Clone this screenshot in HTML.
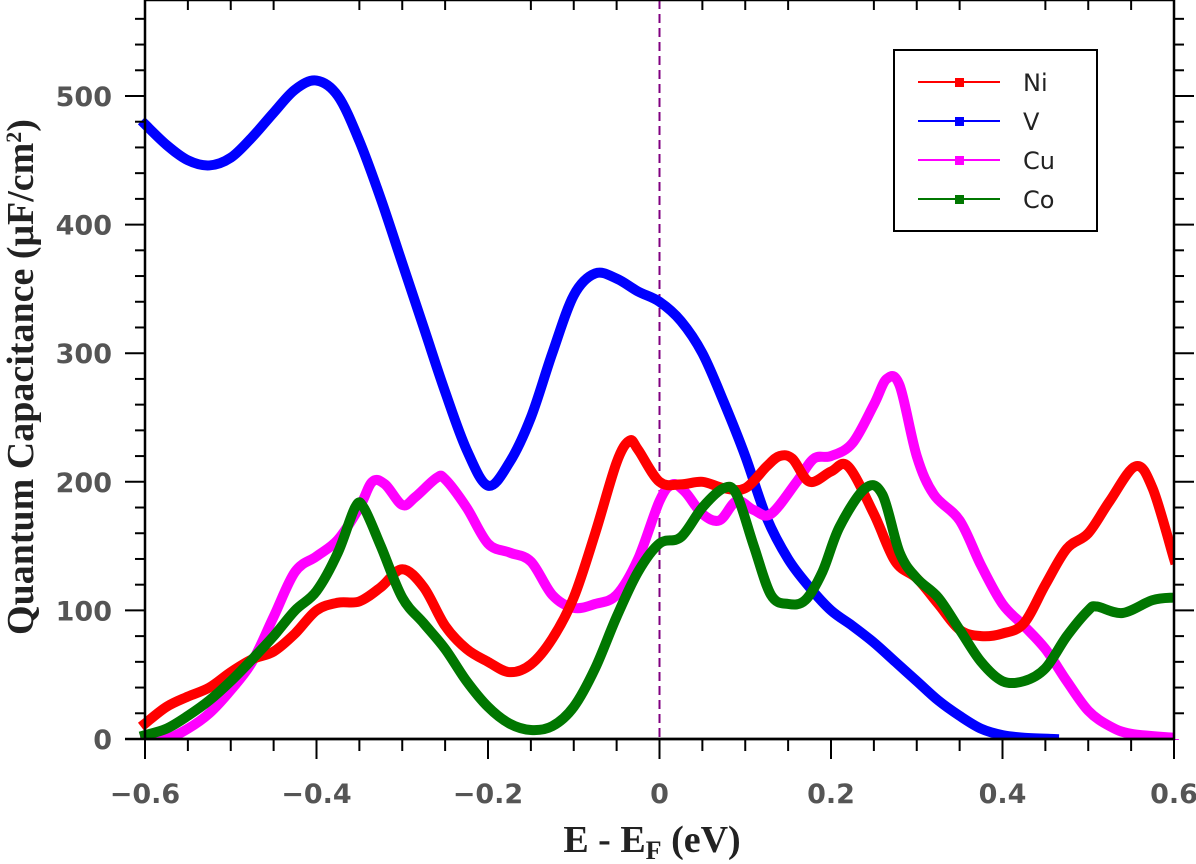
<!DOCTYPE html>
<html><head><meta charset="utf-8"><style>
body{margin:0;background:#fff;}
svg{display:block;}
.tk{font-family:"DejaVu Sans","Liberation Sans",sans-serif;font-weight:bold;font-size:27px;fill:#555;}
.tt{font-family:"Liberation Serif",serif;font-weight:bold;font-size:38px;fill:#222;}
.lg{font-family:"DejaVu Sans","Liberation Sans",sans-serif;font-size:22px;fill:#222;}
</style></head><body>
<svg id="chart" width="1196" height="864">
<g id="series"></g>
<g id="axes"></g>
<g>
<rect x="894" y="50" width="203" height="181" fill="#fff" stroke="#000" stroke-width="2"/>
<g id="legend"></g>
</g>
<text class="tt" x="0" y="0" transform="translate(33,377) rotate(-90)" text-anchor="middle">Quantum Capacitance (μF/cm<tspan dy="-12" font-size="22">2</tspan><tspan dy="12">)</tspan></text>
<text class="tt" x="652" y="852" text-anchor="middle">E - E<tspan dy="7" font-size="26">F</tspan><tspan dy="-7"> (eV)</tspan></text>
</svg>
<script>
const vX=[-0.6,-0.575,-0.55,-0.525,-0.5,-0.475,-0.45,-0.425,-0.4,-0.375,-0.35,-0.325,-0.3,-0.275,-0.25,-0.225,-0.2,-0.175,-0.15,-0.125,-0.1,-0.075,-0.05,-0.025,0,0.025,0.05,0.075,0.1,0.125,0.15,0.175,0.2,0.225,0.25,0.275,0.3,0.325,0.35,0.375,0.4,0.425,0.46];
const vY=[478,462,450,446,452,468,487,505,512,500,465,420,370,320,270,225,197,215,250,300,345,362,358,348,340,325,300,262,220,172,140,118,100,88,75,60,45,30,18,8,3,1,0];
const niX=[-0.6,-0.575,-0.55,-0.525,-0.5,-0.475,-0.45,-0.425,-0.4,-0.375,-0.35,-0.325,-0.3,-0.275,-0.25,-0.225,-0.2,-0.175,-0.15,-0.125,-0.1,-0.075,-0.05,-0.035,-0.025,0,0.025,0.05,0.075,0.1,0.125,0.14,0.155,0.175,0.2,0.22,0.25,0.275,0.3,0.325,0.35,0.375,0.4,0.425,0.45,0.475,0.5,0.525,0.555,0.575,0.6];
const niY=[12,25,33,40,52,62,68,82,100,106,107,118,132,118,88,70,60,52,58,78,110,160,215,232,225,200,198,200,195,195,212,220,218,200,208,212,175,138,125,105,85,80,82,90,120,148,160,185,212,195,140];
const cuX=[-0.6,-0.575,-0.55,-0.525,-0.5,-0.475,-0.45,-0.425,-0.4,-0.375,-0.35,-0.335,-0.32,-0.3,-0.285,-0.26,-0.25,-0.225,-0.2,-0.175,-0.15,-0.125,-0.1,-0.075,-0.05,-0.025,0,0.015,0.03,0.05,0.07,0.09,0.11,0.13,0.16,0.18,0.2,0.225,0.25,0.265,0.28,0.3,0.32,0.35,0.375,0.4,0.425,0.45,0.475,0.5,0.525,0.55,0.6];
const cuY=[0,0,8,20,38,60,95,130,142,155,180,200,198,182,188,203,202,180,152,145,138,112,102,105,112,140,185,198,192,175,170,185,178,175,200,218,220,230,260,280,275,220,190,170,135,105,88,70,45,22,10,4,1];
const coX=[-0.6,-0.575,-0.55,-0.525,-0.5,-0.475,-0.45,-0.425,-0.4,-0.375,-0.355,-0.345,-0.325,-0.3,-0.275,-0.25,-0.225,-0.2,-0.175,-0.15,-0.125,-0.1,-0.075,-0.05,-0.025,0,0.025,0.05,0.075,0.09,0.11,0.13,0.15,0.17,0.19,0.21,0.24,0.26,0.28,0.3,0.325,0.35,0.375,0.4,0.425,0.45,0.475,0.5,0.51,0.54,0.575,0.6];
const coY=[3,8,18,30,45,62,80,100,115,145,180,180,150,110,90,70,45,25,12,7,10,25,55,95,130,152,157,180,195,190,150,112,105,108,130,165,195,190,145,125,110,85,60,45,45,55,80,100,103,98,108,110];
const seriesNames=["Ni","V","Cu","Co"];
const seriesColors=["#ff0000","#0000ff","#ff00ff","#007700"];
const yTicks=[0,100,200,300,400,500];
const xTickLabels=["\u22120.6","\u22120.4","\u22120.2","0","0.2","0.4","0.6"];
const xTickVals=[-0.6,-0.4,-0.2,0,0.2,0.4,0.6];

const NS="http://www.w3.org/2000/svg";
const L=145,R=1174,T=0,B=739;
const xs=x=>L+(x+0.6)/1.2*(R-L);
const ys=v=>B-v*1.286;
function mk(t,a,p){const e=document.createElementNS(NS,t);for(const k in a)e.setAttribute(k,a[k]);p.appendChild(e);return e;}
const sg=document.getElementById('series'),ag=document.getElementById('axes'),lg=document.getElementById('legend');
function pathD(X,Y){const p=X.map((x,i)=>[xs(x),ys(Y[i])]);let d="M"+p[0][0]+","+p[0][1];
for(let i=0;i<p.length-1;i++){const p0=p[Math.max(i-1,0)],p1=p[i],p2=p[i+1],p3=p[Math.min(i+2,p.length-1)];
d+=" C"+(p1[0]+(p2[0]-p0[0])/6)+","+(p1[1]+(p2[1]-p0[1])/6)+" "+(p2[0]-(p3[0]-p1[0])/6)+","+(p2[1]-(p3[1]-p1[1])/6)+" "+p2[0]+","+p2[1];}return d;}
const z=mk('line',{x1:xs(0),x2:xs(0),y1:T,y2:B,stroke:'#800080','stroke-width':2,'stroke-dasharray':'9,5'},sg);


const data=[[niX,niY],[vX,vY],[cuX,cuY],[coX,coY]];
const order=[1,2,0,3];
order.forEach(i=>{const pth=mk('path',{d:pathD(data[i][0],data[i][1]),fill:'none',stroke:seriesColors[i],'stroke-width':10,'stroke-linejoin':'round','stroke-linecap':'square'},sg);

});
mk('rect',{x:0,y:B+1,width:1196,height:125,fill:'#fff'},ag);
mk('rect',{x:R+1,y:0,width:30,height:B,fill:'#fff'},ag);
const fr=mk('path',{d:`M${L},${B} V${T} H${R} V${B} H${L}`,fill:'none',stroke:'#000','stroke-width':2.5},ag);


mk('line',{x1:L-20,x2:R,y1:B,y2:B,stroke:'#000','stroke-width':2.5},ag);
for(let v=20;v<=560;v+=20){const maj=v%100===0;const y=ys(v);
mk('line',{x1:L-(maj?20:10),x2:L,y1:y,y2:y,stroke:'#000','stroke-width':2},ag);
mk('line',{x1:R,x2:R+(maj?20:10),y1:y,y2:y,stroke:'#000','stroke-width':2},ag);}
yTicks.forEach(v=>{const t=mk('text',{x:L-33,y:ys(v)+10,'text-anchor':'end',class:'tk'},ag);t.textContent=v;

});
for(let k=0;k<=24;k++){const x=xs(-0.6+k*0.05);const maj=k%4===0;
mk('line',{x1:x,x2:x,y1:B,y2:B+(maj?20:12),stroke:'#000','stroke-width':2},ag);
if(!maj)mk('line',{x1:x,x2:x,y1:T,y2:T+10,stroke:'#000','stroke-width':2},ag);}
xTickVals.forEach((v,i)=>{const t=mk('text',{x:xs(v),y:B+64,'text-anchor':'middle',class:'tk'},ag);t.textContent=xTickLabels[i];

});
seriesNames.forEach((n,i)=>{const y=82+i*39;
const g=mk('g',{},lg);


mk('line',{x1:918,x2:1000,y1:y,y2:y,stroke:seriesColors[i],'stroke-width':2},g);
mk('rect',{x:955,y:y-4,width:9,height:9,fill:seriesColors[i]},g);
const t=mk('text',{x:1023,y:y+9,class:'lg',style:'font-size:24px'},g);t.textContent=n;});
</script>
</body></html>
